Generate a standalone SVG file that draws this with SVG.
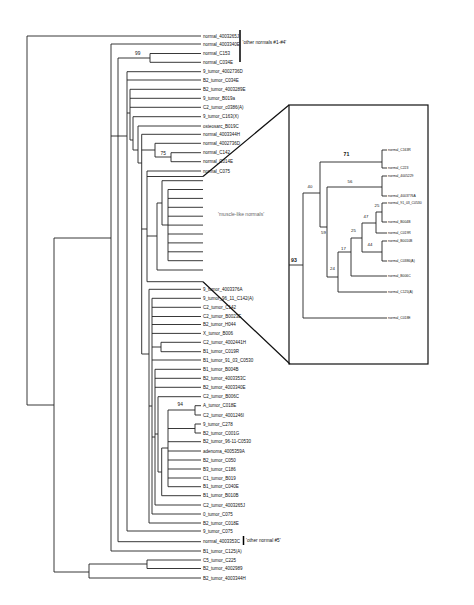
<svg xmlns="http://www.w3.org/2000/svg" width="474" height="605" viewBox="0 0 474 605">
<style>
.e{stroke:#222;stroke-width:0.9;fill:none}
.z{stroke:#111;stroke-width:1.2;fill:none}
.bar{stroke:#000;stroke-width:1.5;fill:none}
text{font-family:"Liberation Sans",Arial,sans-serif;fill:#111}
.t{font-size:4.5px}
.it{font-size:3.4px}
.bs{font-size:4.8px}
.ib{font-size:4.3px}
.bb{font-size:5.2px;font-weight:bold}
.ann{font-size:4.7px}
.ml{font-size:5px;fill:#666}
</style>
<rect width="474" height="605" fill="#fff"/>
<g id="connectors">
<path class="e" d="M27 36V405M27 36H201M27 405H54
M54 238V572M54 238H111M54 572H89
M89 564V578M89 564H147M89 578H201
M147 560V568.5M147 560H201M147 568.5H201
M111 44V551M111 44H201M111 136H118M111 551H201
M118 58V541.7M118 58H150M118 136H127M118 541.7H201
M150 53.5V62.3M150 53.5H201M150 62.3H201
M127 71.7V531M127 71.7H201M127 80H201M127 113H130M127 531H201
M130 89.3V140M130 89.3H201M130 98.3H201M130 107.3H201M130 140H133
M133 116.7V150M133 116.7H201M133 150H138
M138 126V163M138 126H201M138 163H141.7
M141.7 134.3V354M141.7 134.3H201M141.7 150H155M141.7 229H147M141.7 354H149
M155 143.3V157M155 143.3H201M155 157H171
M171 152.7V161.7M171 152.7H201M171 161.7H201
M147 171V281.7M147 171H201M147 176.5H203M147 236H157M147 281.7H203
M157 203V270M157 203H162M157 270H203
M162 180.7V225M162 180.7H203M162 225H168
M168 189.5V260.7M168 189.5H203M168 198.4H203M168 207.3H203M168 216.2H203M168 225.1H203M168 234H203M168 242.9H203M168 251.8H203M168 260.7H203
M149 289.3V523M149 289.3H201M149 406H152M149 523H201
M152 298.3V514M152 298.3H201M152 307.3H201M152 316.5H201M152 324.5H201M152 333.4H201M152 347H161M152 360H201M152 437H155M152 514H201
M161 342.3V351.7M161 342.3H201M161 351.7H201
M155 369.3V505M155 369.3H201M155 378.3H201M155 387.3H201M155 434H158M155 505H201
M158 396.7V472M158 396.7H201M158 472H161.7
M161.7 448V495.7M161.7 448H168M161.7 495.7H201
M168 410V486.7M168 410H195M168 428.5H195M168 441.7H201M168 451H201M168 460H201M168 469H201M168 478H201M168 486.7H201
M195 405.7V415M195 405.7H201M195 415H201
M195 424V433M195 424H201M195 433H201"/>
<path class="e" d="M289 265H303M303 193V318M303 318H387M303 193H320
M320 162V227M320 162H382M320 227H327
M382 150V168M382 150H387M382 168H387
M327 187V277M327 187H382M327 277H338
M382 176V196M382 176H387M382 196H387
M338 252V292M338 252H351M338 292H387
M351 238V276M351 238H362M351 276H387
M362 223V252M362 223H376M362 252H382
M376 212V233M376 212H382M376 233H387
M382 203V222M382 203H387M382 222H387
M382 241V261M382 241H387M382 261H387"/>
<path class="z" d="M203 176.5L289 105M203 281.7L290 364"/>
</g>
<g id="inset-box"><rect class="z" x="289" y="105" width="139" height="259"/></g>
<g id="support-values">
<text class="bs" x="135" y="54.5">99</text>
<text class="bs" x="160.5" y="155">75</text>
<text class="bs" x="177.5" y="406">94</text>
<text class="bb" x="291" y="262">93</text>
<text class="bb" x="343.5" y="156">71</text>
<text class="ib" x="307.5" y="187.5">40</text>
<text class="ib" x="347.5" y="182.5">56</text>
<text class="ib" x="321" y="234">59</text>
<text class="ib" x="374.5" y="206.5">25</text>
<text class="ib" x="363.5" y="217.5">47</text>
<text class="ib" x="351" y="231.5">25</text>
<text class="ib" x="367.5" y="246">44</text>
<text class="ib" x="341" y="249.5">17</text>
<text class="ib" x="330" y="270">24</text>
</g>
<g id="annotations">
<path class="bar" d="M240 30V62M243.5 536V545"/>
<text class="ann" x="242.5" y="44">'other normals #1-#4'</text>
<text class="ann" x="246" y="542">'other normal #5'</text>
<text class="ml" x="218" y="216">'muscle-like normals'</text>
</g>
<g id="leaves">
<g id="n1"><text class="t" x="203" y="37.5">normal_4003265J</text></g>
<g id="n2"><text class="t" x="203" y="45.5">normal_4003340E</text></g>
<g id="n3"><text class="t" x="203" y="55">normal_C153</text></g>
<g id="n4"><text class="t" x="203" y="63.8">normal_C034E</text></g>
<g id="n5"><text class="t" x="203" y="73.2">9_tumor_4002736D</text></g>
<g id="n6"><text class="t" x="203" y="81.5">B2_tumor_C034E</text></g>
<g id="n7"><text class="t" x="203" y="90.8">B2_tumor_4003289E</text></g>
<g id="n8"><text class="t" x="203" y="99.8">9_tumor_B019a</text></g>
<g id="n9"><text class="t" x="203" y="108.8">C2_tumor_c0386(A)</text></g>
<g id="n10"><text class="t" x="203" y="118.2">9_tumor_C163(X)</text></g>
<g id="n11"><text class="t" x="203" y="127.5">osteosarc_B019C</text></g>
<g id="n12"><text class="t" x="203" y="135.8">normal_4003344H</text></g>
<g id="n13"><text class="t" x="203" y="144.8">normal_4002736D</text></g>
<g id="n14"><text class="t" x="203" y="154.2">normal_C142</text></g>
<g id="n15"><text class="t" x="203" y="163.2">normal_C014E</text></g>
<g id="n16"><text class="t" x="203" y="172.5">normal_C075</text></g>
<g id="n17"><text class="t" x="203" y="290.8">9_tumor_4003376A</text></g>
<g id="n18"><text class="t" x="203" y="299.8">9_tumor_96_11_C142(A)</text></g>
<g id="n19"><text class="t" x="203" y="308.8">C2_tumor_C142</text></g>
<g id="n20"><text class="t" x="203" y="318">C2_tumor_B0023E</text></g>
<g id="n21"><text class="t" x="203" y="326">B2_tumor_H044</text></g>
<g id="n22"><text class="t" x="203" y="334.9">X_tumor_B006</text></g>
<g id="n23"><text class="t" x="203" y="343.8">C2_tumor_4002441H</text></g>
<g id="n24"><text class="t" x="203" y="353.2">B1_tumor_C019R</text></g>
<g id="n25"><text class="t" x="203" y="361.5">B1_tumor_91_03_C0530</text></g>
<g id="n26"><text class="t" x="203" y="370.8">B1_tumor_B004B</text></g>
<g id="n27"><text class="t" x="203" y="379.8">B2_tumor_4003353C</text></g>
<g id="n28"><text class="t" x="203" y="388.8">B2_tumor_4003340E</text></g>
<g id="n29"><text class="t" x="203" y="398.2">C2_tumor_B006C</text></g>
<g id="n30"><text class="t" x="203" y="407.2">A_tumor_C018E</text></g>
<g id="n31"><text class="t" x="203" y="416.5">C2_tumor_4001246I</text></g>
<g id="n32"><text class="t" x="203" y="425.5">9_tumor_C278</text></g>
<g id="n33"><text class="t" x="203" y="434.5">B2_tumor_C001G</text></g>
<g id="n34"><text class="t" x="203" y="443.2">B2_tumor_96-11-C0530</text></g>
<g id="n35"><text class="t" x="203" y="452.5">adenoma_4005359A</text></g>
<g id="n36"><text class="t" x="203" y="461.5">B2_tumor_C050</text></g>
<g id="n37"><text class="t" x="203" y="470.5">B3_tumor_C186</text></g>
<g id="n38"><text class="t" x="203" y="479.5">C1_tumor_B019</text></g>
<g id="n39"><text class="t" x="203" y="488.2">B1_tumor_C040E</text></g>
<g id="n40"><text class="t" x="203" y="497.2">B1_tumor_B010B</text></g>
<g id="n41"><text class="t" x="203" y="506.5">C2_tumor_4003265J</text></g>
<g id="n42"><text class="t" x="203" y="515.5">0_tumor_C075</text></g>
<g id="n43"><text class="t" x="203" y="524.5">B2_tumor_C018E</text></g>
<g id="n44"><text class="t" x="203" y="532.5">9_tumor_C075</text></g>
<g id="n45"><text class="t" x="203" y="543.2">normal_4003353C</text></g>
<g id="n46"><text class="t" x="203" y="552.5">B1_tumor_C125(A)</text></g>
<g id="n47"><text class="t" x="203" y="561.5">C5_tumor_C225</text></g>
<g id="n48"><text class="t" x="203" y="570">B2_tumor_4002989</text></g>
<g id="n49"><text class="t" x="203" y="579.5">B2_tumor_4003344H</text></g>
</g>
<g id="inset-leaves">
<g id="i1"><text class="it" x="388" y="151.2">normal_C163R</text></g>
<g id="i2"><text class="it" x="388" y="169.2">normal_C223</text></g>
<g id="i3"><text class="it" x="388" y="177.2">normal_4005229</text></g>
<g id="i4"><text class="it" x="388" y="197.2">normal_4003776A</text></g>
<g id="i5"><text class="it" x="388" y="204.2">normal_91_03_C0530</text></g>
<g id="i6"><text class="it" x="388" y="223.2">normal_B004B</text></g>
<g id="i7"><text class="it" x="388" y="234.2">normal_C019R</text></g>
<g id="i8"><text class="it" x="388" y="242.2">normal_B0010B</text></g>
<g id="i9"><text class="it" x="388" y="262.2">normal_C0386(A)</text></g>
<g id="i10"><text class="it" x="388" y="277.2">normal_B006C</text></g>
<g id="i11"><text class="it" x="388" y="293.2">normal_C125(A)</text></g>
<g id="i12"><text class="it" x="388" y="319.2">normal_C018E</text></g>
</g>
</svg>
